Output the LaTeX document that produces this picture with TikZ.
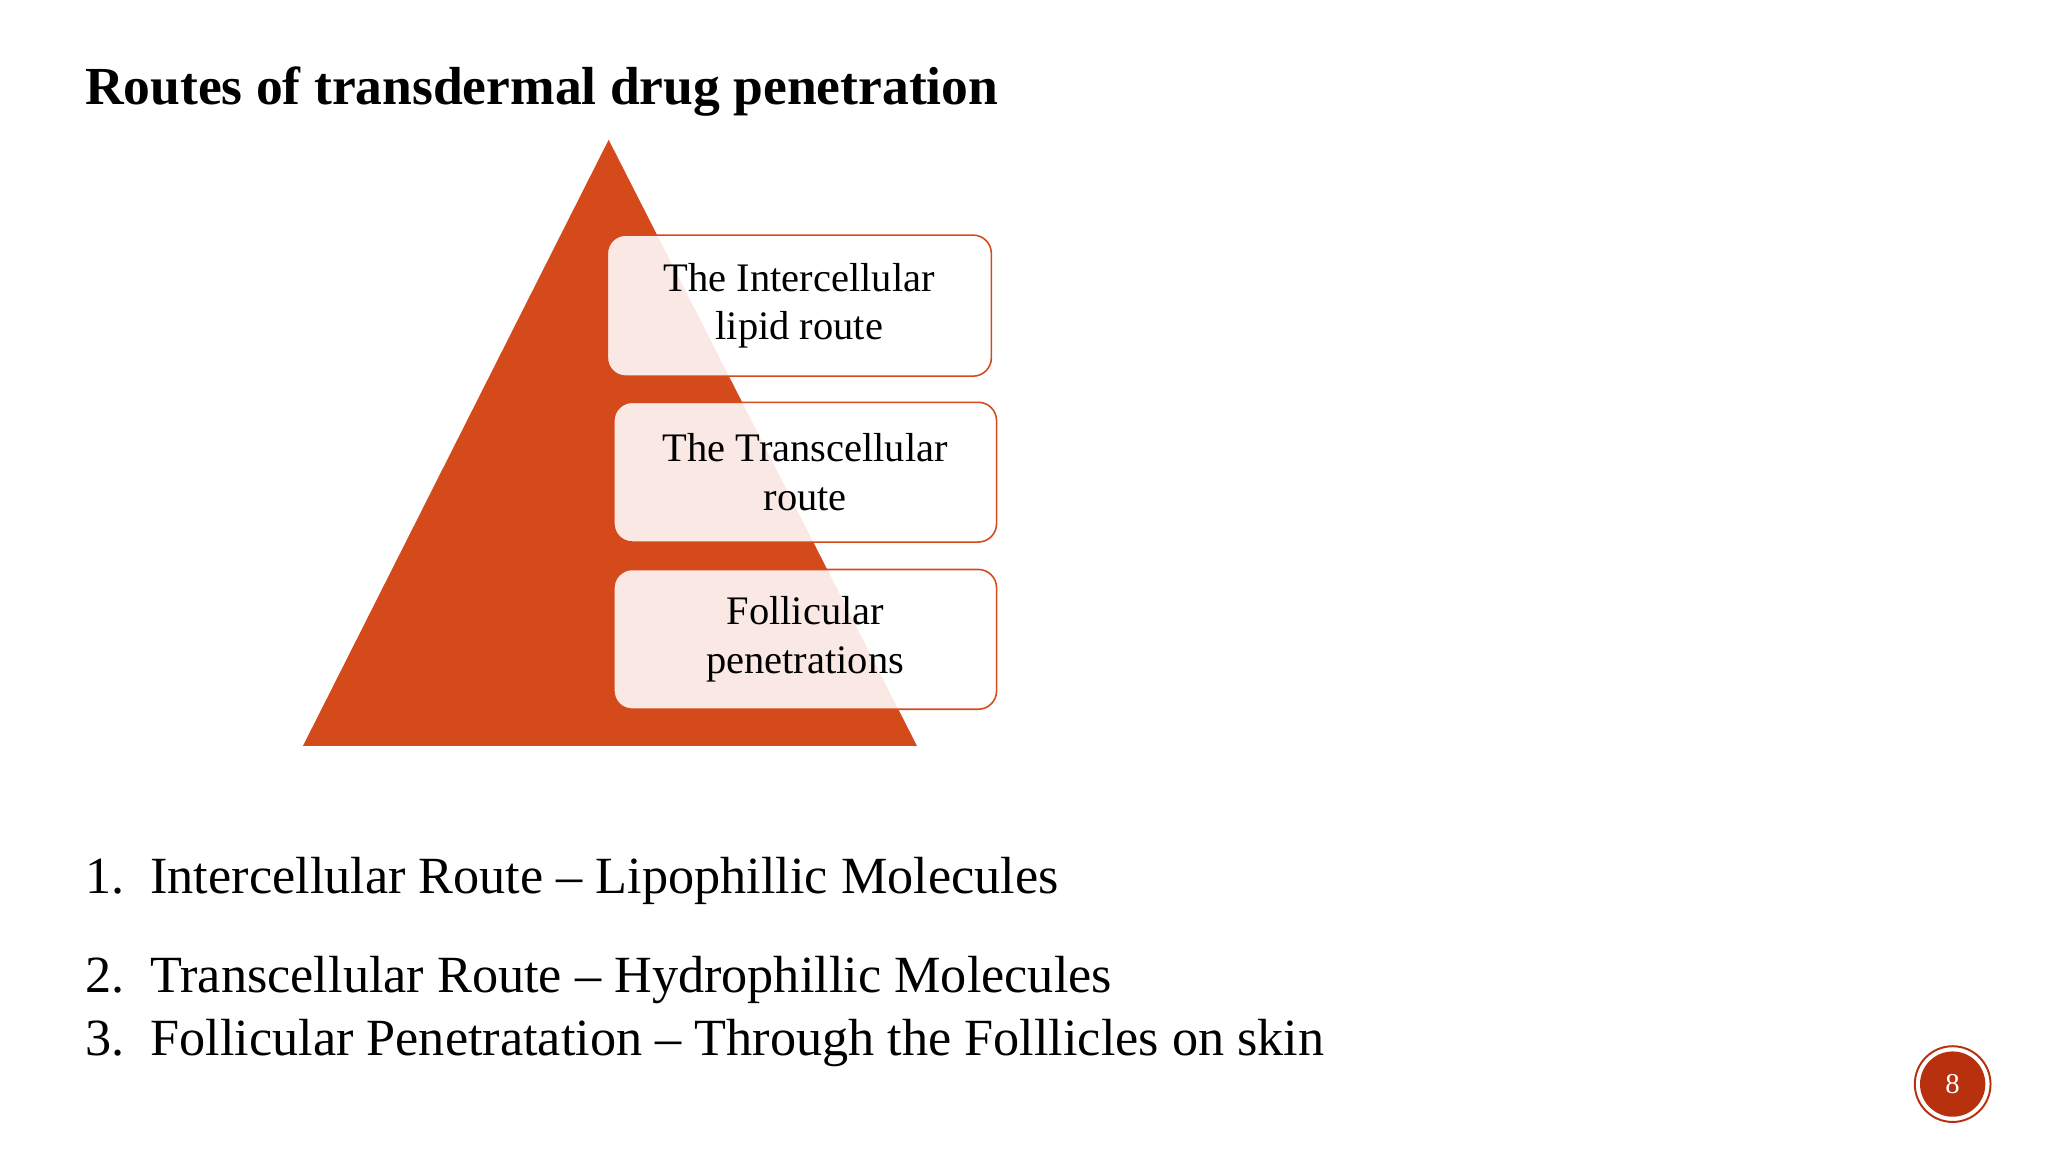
\documentclass[tikz,border=0pt]{standalone}
\usepackage{fontspec}
\setmainfont{Liberation Serif}
\definecolor{tri}{HTML}{D54A1B}
\definecolor{pg}{HTML}{B8310F}
\begin{document}
\begin{tikzpicture}[x=1pt,y=-1pt,
  rbox/.style={draw=tri,line width=1.2pt,fill=white,fill opacity=0.88,text opacity=1,rounded corners=14pt,align=center,font=\fontsize{31}{37}\selectfont,inner sep=0pt},
  item/.style={anchor=base west,font=\fontsize{40}{48}\selectfont,inner sep=0pt}]
\useasboundingbox (0,0) rectangle (1568,882);
\node[anchor=base west,inner sep=0pt,font=\bfseries\fontsize{41}{48}\selectfont] (title) at (65,80) {Routes of transdermal drug penetration};
\fill[tri] (466,107) -- (702,571) -- (232,571) -- cycle;
\node[rbox,minimum width=294pt,minimum height=108pt] (b1) at (612,234) {The Intercellular\\lipid route};
\node[rbox,minimum width=293pt,minimum height=107pt] (b2) at (616.5,361.5) {The Transcellular\\route};
\node[rbox,minimum width=293pt,minimum height=107pt] (b3) at (616.5,489.5) {Follicular\\penetrations};
\node[item] (l1) at (65,684) {1.\ \ Intercellular Route -- Lipophillic Molecules};
\node[item] (l2) at (65,760) {2.\ \ Transcellular Route -- Hydrophillic Molecules};
\node[item] (l3) at (65,808) {3.\ \ Follicular Penetratation -- Through the Folllicles on skin};
\node[circle,draw=pg,line width=1.5pt,minimum size=58pt,inner sep=0pt] (ring) at (1495,830) {};
\node[circle,fill=pg,minimum size=50pt,inner sep=0pt,text=white,font=\fontsize{22}{26}\selectfont] (pn) at (1495,830) {8};
\end{tikzpicture}
\end{document}
